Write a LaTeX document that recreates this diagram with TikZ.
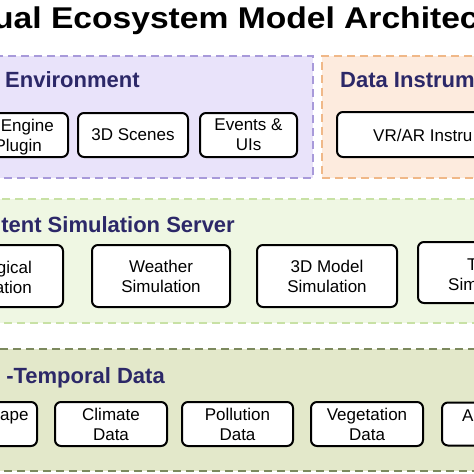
\documentclass[tikz,border=0pt]{standalone}
\usepackage{fontspec}
\setmainfont{Liberation Sans}
\usepackage{tikz}
\usetikzlibrary{positioning}
\definecolor{headnavy}  {RGB}{44, 40, 104}
\definecolor{envfill}   {RGB}{233, 227, 250}
\definecolor{envline}   {RGB}{168, 154, 218}
\definecolor{instfill}  {RGB}{253, 235, 222}
\definecolor{instline}  {RGB}{240, 184, 136}
\definecolor{simfill}   {RGB}{239, 247, 227}
\definecolor{simline}   {RGB}{200, 225, 165}
\definecolor{datafill}  {RGB}{227, 232, 202}
\definecolor{dataline}  {RGB}{124, 137, 94}
\tikzset{
  % dashed layer panel
  panel/.style={
    rectangle, anchor=north west, inner sep=0pt,
    line width=1.5pt, dash pattern=on 8pt off 5pt
  },
  % white module box
  box/.style={
    rectangle, rounded corners=6pt,
    fill=white, draw=black, line width=2pt,
    font=\fontsize{17pt}{20pt}\selectfont, align=center, inner sep=0pt
  },
  % loose text of a cut box
  boxtext/.style={font=\fontsize{17pt}{20pt}\selectfont, inner sep=0pt},
  % layer heading
  head/.style={font=\fontsize{22pt}{26pt}\selectfont\bfseries, text=headnavy, inner sep=0pt},
}
\begin{document}
\begin{tikzpicture}[x=1pt, y=-1pt]
  \useasboundingbox (0,0) rectangle (474,474);
  \clip (0,0) rectangle (474,474);
  \fill[white] (0,0) rectangle (474,474);

  % title
  \node[inner sep=0pt, anchor=base west, font=\fontsize{30pt}{34pt}\selectfont\bfseries]
    (title) at (-7,28) {\scalebox{1.12}[1]{ual Ecosystem Model Architec}};

  % layer panels
  \node[panel, fill=envfill, draw=envline, minimum width=322pt, minimum height=122pt] (env) at (-10,55) {};
  \node[panel, fill=instfill, draw=instline, minimum width=170pt, minimum height=122pt] (inst) at (321,55) {};
  \node[panel, fill=simfill, draw=simline, minimum width=500pt, minimum height=124pt] (sim) at (-10,198) {};
  \node[panel, fill=datafill, draw=dataline, minimum width=500pt, minimum height=122pt] (data) at (-10,348) {};

  % headings
  \node[head, anchor=base west] (envhead) at (5,87) {Environment};
  \node[head, anchor=base west] (insthead) at (340,87) {Data Instrum};
  \node[head, anchor=base east] (simhead) at (235,232) {tent Simulation Server};
  \node[head, anchor=base east] (datahead) at (165,383) {-Temporal Data};

  % environment modules
  \node[box, minimum width=108pt, minimum height=44pt] (engine) at (14,135) {};
  \node[boxtext, anchor=base east] (engineA) at (54,131) {Engine};
  \node[boxtext, anchor=base east] (engineB) at (42,151) {Plugin};
  \node[box, minimum width=110pt, minimum height=44pt] (scenes) at (133,135) {3D Scenes};
  \node[box, minimum width=97pt, minimum height=44pt] (events) at (248.5,135) {Events \&\\UIs};

  % instrumentation modules
  \node[box, minimum width=180pt, minimum height=45pt] (vrar) at (427,134.5) {};
  \node[boxtext, anchor=base west] (vrarA) at (373,141) {VR/AR Instru};

  % simulation modules
  \node[box, minimum width=123pt, minimum height=62pt] (eco) at (1.5,276) {};
  \node[boxtext, anchor=base east] (ecoA) at (32,273) {gical};
  \node[boxtext, anchor=base east] (ecoB) at (32,293) {ation};
  \node[box, minimum width=138pt, minimum height=62pt] (weather) at (161,276) {Weather\\Simulation};
  \node[box, minimum width=140pt, minimum height=62pt] (model) at (327,276) {3D Model\\Simulation};
  \node[box, minimum width=140pt, minimum height=61pt] (tsim) at (488,272.5) {};
  \node[boxtext, anchor=base west] (tsimA) at (467,270) {T};
  \node[boxtext, anchor=base west] (tsimB) at (448,290) {Sim};

  % data modules
  \node[box, minimum width=117pt, minimum height=44pt] (land) at (-21.5,424) {};
  \node[boxtext, anchor=base west] (landA) at (0,420) {ape};
  \node[box, minimum width=112pt, minimum height=44pt] (climate) at (111,424) {Climate\\Data};
  \node[box, minimum width=111pt, minimum height=44pt] (pollution) at (237.5,424) {Pollution\\Data};
  \node[box, minimum width=112pt, minimum height=44pt] (vegetation) at (367,424) {Vegetation\\Data};
  \node[box, minimum width=112pt, minimum height=43pt] (air) at (498,424) {};
  \node[boxtext, anchor=base west] (airA) at (462,421) {A};
\end{tikzpicture}
\end{document}
